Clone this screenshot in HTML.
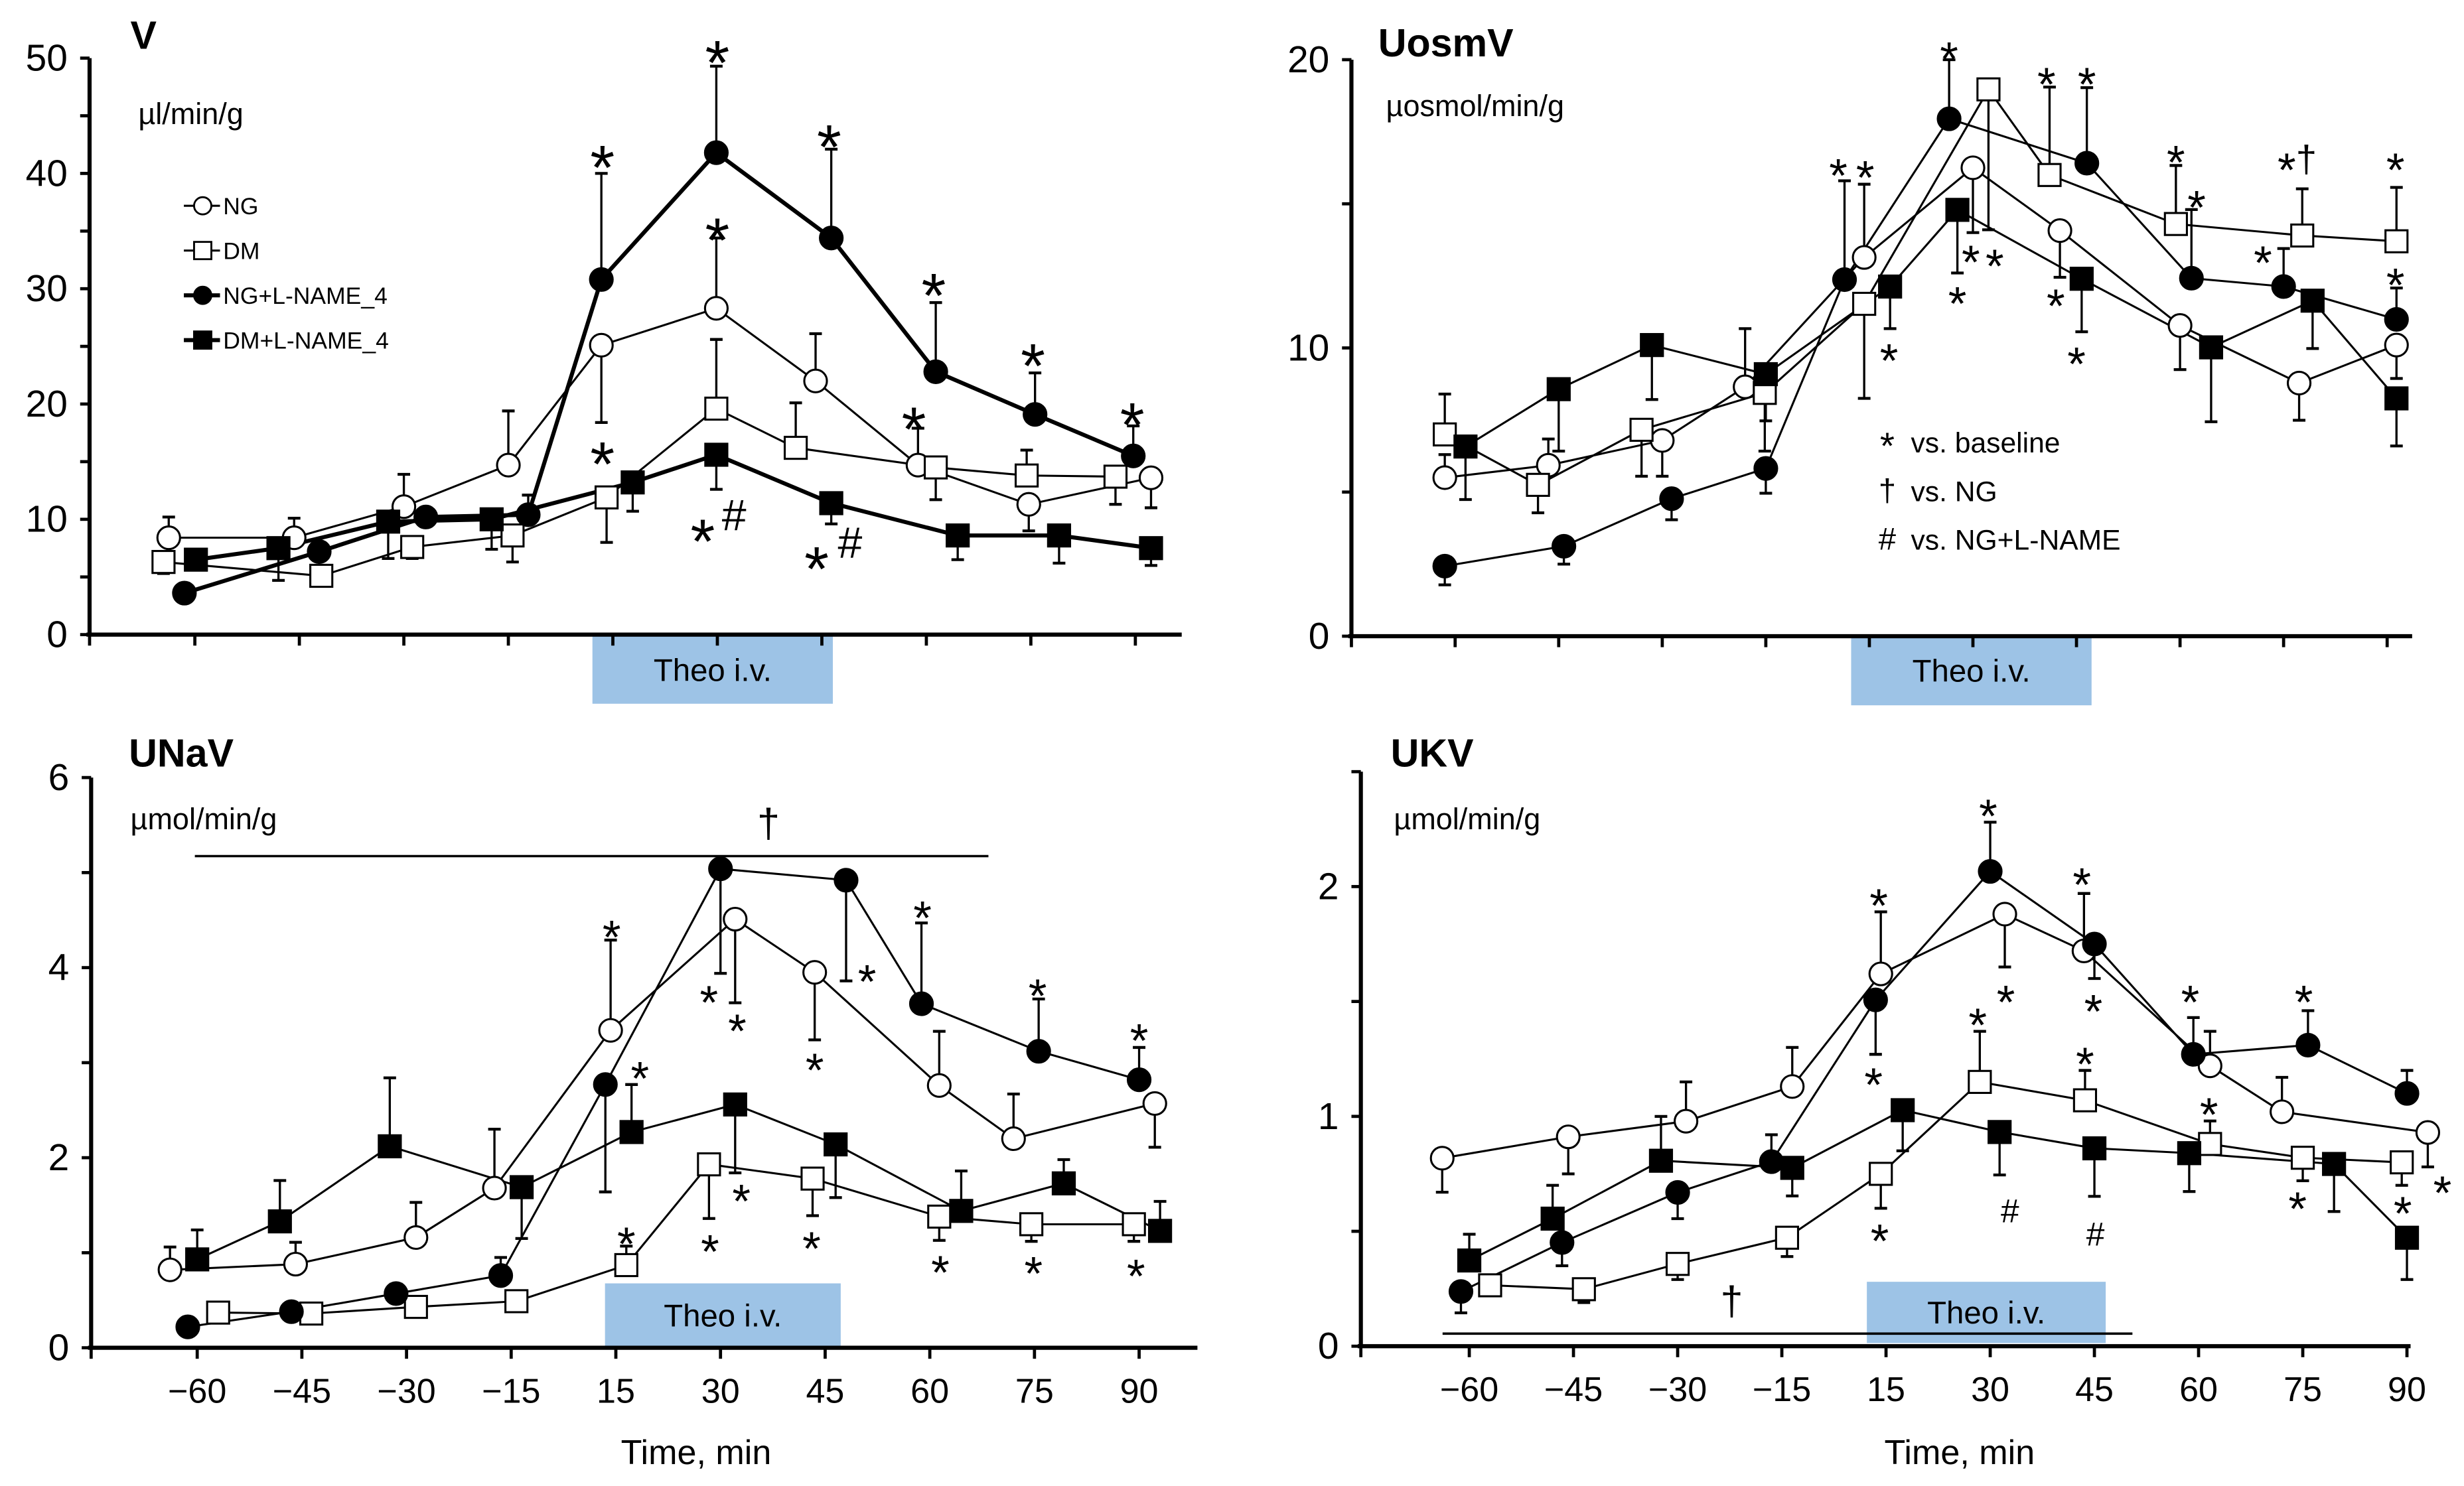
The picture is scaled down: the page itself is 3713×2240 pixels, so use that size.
<!DOCTYPE html>
<html><head><meta charset="utf-8">
<style>
html,body{margin:0;padding:0;background:#fff;}
svg{display:block;}
text{font-family:"Liberation Sans Narrow","Liberation Sans",sans-serif;fill:#000;}
</style></head>
<body>
<svg id="fig" xmlns="http://www.w3.org/2000/svg" width="3713" height="2240" viewBox="0 0 1568 946" preserveAspectRatio="none">
<g id="pV"></g>
<g id="pO"></g>
<g id="pN"></g>
<g id="pK"></g>
</svg>
<script>
const TIMES = ['\u221260','\u221245','\u221230','\u221215','15','30','45','60','75','90'];

// ---- V (µl/min/g) ----
const vNG = [8.4,8.4,11.1,14.7,25.1,28.3,22,14.7,11.3,13.6];
const vNGerr = [10.2,10.1,13.9,19.4,18.4,34.4,26.1,17.9,9,11];
const vDM = [6.3,5.1,7.6,8.6,11.9,19.6,16.2,14.5,13.8,13.7];
const vDMerr = [5.3,5.1,6.6,6.3,8,25.6,20.1,11.7,16,11.3];
const vNGL = [3.6,7.2,10.2,10.4,30.8,41.8,34.4,22.8,19.1,15.5];
const vNGLerr = [3.6,7.2,10.2,12.1,40,49.3,42.1,28.8,22.7,18.1];
const vDML = [6.5,7.5,9.8,10.0,13.2,15.6,11.4,8.6,8.6,7.5];
const vDMLerr = [6.5,4.7,6.6,7.4,10.7,12.6,9.6,6.5,6.2,6.0];

// ---- UosmV ----
const oNG = [5.5,5.93,6.79,8.65,13.14,16.25,14.07,10.78,8.78,10.1];
const oNGerr = [6.3,6.84,5.55,10.67,15.68,14,12.45,9.25,7.49,8.94];
const oDM = [7.0,5.25,7.16,8.44,11.53,18.97,16.0,14.3,13.9,13.7];
const oDMerr = [8.4,4.28,5.55,6.42,8.25,14.1,19.05,16.33,15.52,15.57];
const oNGL = [2.43,3.12,4.77,5.82,12.37,17.95,16.41,12.42,12.13,10.99];
const oNGLerr = [1.78,2.5,4.04,4.96,15.8,20,19.03,14.8,13.45,12.08];
const oDML = [6.58,8.57,10.1,9.09,12.13,14.79,12.4,10.02,11.64,8.25];
const oDMLerr = [4.74,6.42,8.21,7.47,10.67,12.6,10.56,7.44,9.98,6.6];

// ---- UNaV ----
const nNG = [0.82,0.88,1.16,1.68,3.34,4.51,3.95,2.76,2.2,2.57];
const nNGerr = [1.06,1.11,1.53,2.3,4.29,3.63,3.24,3.33,2.67,2.11];
const nDM = [0.37,0.36,0.43,0.49,0.87,1.93,1.78,1.38,1.30,1.30];
const nDMerr = [0.37,0.36,0.43,0.49,1.07,1.36,1.39,1.13,1.12,1.12];
const nNGL = [0.22,0.38,0.57,0.76,2.77,5.04,4.92,3.62,3.12,2.82];
const nNGLerr = [0.22,0.38,0.67,0.95,1.64,3.94,3.86,4.47,3.67,3.16];
const nDML = [0.93,1.33,2.12,1.69,2.27,2.56,2.14,1.44,1.73,1.23];
const nDMLerr = [1.24,1.76,2.84,1.15,2.77,1.84,1.58,1.86,1.98,1.54];

// ---- UKV ----
const kNG = [0.818,0.911,0.979,1.13,1.62,1.88,1.72,1.22,1.02,0.93];
const kNGerr = [0.67,0.75,1.15,1.3,1.89,1.65,1.97,1.37,1.17,0.78];
const kDM = [0.265,0.248,0.358,0.472,0.75,1.15,1.07,0.88,0.82,0.80];
const kDMerr = [0.265,0.19,0.29,0.39,0.6,1.37,1.2,0.98,0.72,0.70];
const kNGL = [0.238,0.451,0.669,0.803,1.507,2.066,1.75,1.27,1.31,1.1];
const kNGLerr = [0.145,0.35,0.555,0.92,1.27,2.28,1.6,1.43,1.46,1.2];
const kDML = [0.373,0.555,0.807,0.776,1.027,0.932,0.861,0.84,0.793,0.472];
const kDMLerr = [0.487,0.70,1.0,0.654,0.85,0.745,0.652,0.673,0.586,0.29];

// horizontal offsets (fraction of one time step) so overlapping symbols separate
const jV = {NG:[-0.25,-0.05,0,0,-0.11,-0.01,-0.06,-0.08,-0.02,0.15],DM:[-0.3,0.21,0.08,0.04,-0.06,-0.01,-0.25,0.09,-0.04,-0.19],NGL:[-0.1,0.19,0.21,0.19,-0.11,-0.01,0.09,0.09,0.04,-0.02],DML:[0.01,-0.2,-0.15,-0.16,0.19,-0.01,0.09,0.3,0.27,0.15]};
const jO = {NG:[-0.1,-0.1,0,-0.2,-0.05,0,-0.16,0,0.15,0.09],DM:[-0.1,-0.2,-0.2,-0.01,-0.05,0.15,-0.26,-0.04,0.18,0.09],NGL:[-0.1,0.05,0.09,0,-0.24,-0.23,0.1,0.11,0,0.09],DML:[0.1,0,-0.1,0,0.2,-0.15,0.05,0.3,0.28,0.09]};
const jN = {NG:[-0.26,-0.06,0.09,-0.16,-0.05,0.14,-0.1,0.09,-0.2,0.15],DM:[0.2,0.09,0.09,0.05,0.1,-0.11,-0.12,0.09,-0.03,-0.05],NGL:[-0.09,-0.1,-0.1,-0.1,-0.1,0,0.2,-0.08,0.04,0],DML:[0,-0.21,-0.16,0.1,0.15,0.14,0.1,0.3,0.28,0.2]};
const jK = {NG:[-0.26,-0.05,0.08,0.1,-0.05,0.14,-0.1,0.11,-0.2,0.2],DM:[0.2,0.1,0,0.05,-0.05,-0.1,-0.09,0.11,0,-0.05],NGL:[-0.08,-0.11,0,-0.1,-0.1,0,0,-0.05,0.05,0],DML:[0,-0.2,-0.16,0.1,0.16,0.09,0,-0.09,0.3,0]};

// annotations: [time index position, value, symbol]
const aV = [[3.9,41.9,'*'],[5,51,'*'],[6.07,43.7,'*'],[7.07,30.8,'*'],[8.02,24.7,'*'],[8.97,19.6,'*'],[5,35.6,'*'],[6.88,19.2,'*'],[3.9,16.2,'*'],[4.86,9.5,'*'],[5.16,10.3,'#'],[5.95,7.1,'*'],[6.27,7.9,'#']];
const aO = [[4.77,20.45,'*'],[5.71,19.56,'*'],[6.1,19.56,'*'],[3.7,16.4,'*'],[3.96,16.33,'*'],[6.96,16.86,'*'],[7.16,15.3,'*'],[8.03,16.6,'*'],[8.22,16.6,'†'],[9.08,16.6,'*'],[4.98,13.4,'*'],[5.21,13.26,'*'],[4.85,11.96,'*'],[5.8,11.88,'*'],[4.19,9.98,'*'],[6.0,9.86,'*'],[7.8,13.37,'*'],[9.08,12.6,'*']];
const aN = [[3.96,4.45,'*'],[4.23,2.96,'*'],[4.89,3.76,'*'],[5.16,3.46,'*'],[6.4,3.98,'*'],[5.9,3.05,'*'],[6.93,4.65,'*'],[8.03,3.83,'*'],[9.0,3.36,'*'],[4.1,1.22,'*'],[5.2,1.67,'*'],[4.9,1.14,'*'],[5.87,1.17,'*'],[7.1,0.92,'*'],[7.99,0.91,'*'],[8.97,0.88,'*']];
const aK = [[3.93,1.97,'*'],[4.98,2.36,'*'],[5.88,2.06,'*'],[5.15,1.55,'*'],[5.99,1.51,'*'],[3.88,1.19,'*'],[4.88,1.45,'*'],[5.91,1.28,'*'],[6.92,1.55,'*'],[8.01,1.55,'*'],[7.1,1.06,'*'],[3.94,0.51,'*'],[7.95,0.65,'*'],[8.96,0.63,'*'],[9.34,0.72,'*'],[5.19,0.6,'#'],[6.01,0.5,'#']];

const NS='http://www.w3.org/2000/svg';
function mk(parent, tag, attrs){
  const e=document.createElementNS(NS,tag);
  for(const k in attrs) e.setAttribute(k,attrs[k]);
  parent.appendChild(e); return e;
}
function txt(parent, x, y, s, size, extra){
  const t=mk(parent,'text',Object.assign({x:x,y:y,'font-size':size},extra||{}));
  t.textContent=s; return t;
}

function drawPanel(g, cfg, series, jit, annots){
  const X=(i,j)=>cfg.x0+(i+j)*cfg.dx;
  const Y=v=>cfg.y0-v*cfg.sy;
  const box=mk(g,'rect',{x:cfg.box[0],y:cfg.box[1],width:cfg.box[2],height:cfg.box[3],fill:'#9dc3e6'});
  
  
  const bt=txt(g,cfg.box[0]+cfg.box[2]/2,cfg.box[1]+cfg.box[3]/2+7,'Theo i.v.',20,{'text-anchor':'middle'});
  
  
  const ya=mk(g,'line',{x1:cfg.ax,y1:Y(cfg.vmax),x2:cfg.ax,y2:cfg.y0,stroke:'#000','stroke-width':2.6});
  
  
  const xa=mk(g,'line',{x1:cfg.ax-2,y1:cfg.y0,x2:cfg.axEnd,y2:cfg.y0,stroke:'#000','stroke-width':2.6});
  
  
  mk(g,'line',{x1:cfg.ax,y1:cfg.y0,x2:cfg.ax,y2:cfg.y0+7,stroke:'#000','stroke-width':2});
  for(let i=0;i<TIMES.length;i++){
    mk(g,'line',{x1:X(i,0),y1:cfg.y0,x2:X(i,0),y2:cfg.y0+7,stroke:'#000','stroke-width':2});
    if(cfg.xlabels){
      const tl=txt(g,X(i,0),cfg.y0+35,TIMES[i],22,{'text-anchor':'middle'});
      
      
    }
  }
  for(let v=0; v<=cfg.vmax+1e-9; v+=cfg.minor){
    mk(g,'line',{x1:cfg.ax-6,y1:Y(v),x2:cfg.ax,y2:Y(v),stroke:'#000','stroke-width':2});
  }
  for(const v of cfg.yticks){
    const yl=txt(g,cfg.ax-14,Y(v)+8,String(v),24,{'text-anchor':'end'});
    
    
  }
  const ti=txt(g,cfg.title[0],cfg.title[1],cfg.title[2],25,{'font-weight':'bold','font-family':'Liberation Sans, sans-serif'});
  
  
  const un=txt(g,cfg.unit[0],cfg.unit[1],cfg.unit[2],19);
  
  
  if(cfg.xtitle){
    const xt=txt(g,cfg.xtitle,932,'Time, min',22,{'text-anchor':'middle'});
    
    
  }
  for(const s of series){
    const pts=s.vals.map((v,i)=>X(i,jit[s.key][i]).toFixed(1)+','+Y(v).toFixed(1)).join(' ');
    const pl=mk(g,'polyline',{points:pts,fill:'none',stroke:'#000','stroke-width':s.lw});
    
    
  }
  for(const s of series){
    s.err.forEach((e,i)=>{
      if(Math.abs(e-s.vals[i])<1e-6) return;
      const x=X(i,jit[s.key][i]);
      mk(g,'line',{x1:x,y1:Y(s.vals[i]),x2:x,y2:Y(e),stroke:'#000','stroke-width':1.4});
      mk(g,'line',{x1:x-4,y1:Y(e),x2:x+4,y2:Y(e),stroke:'#000','stroke-width':1.8});
    });
  }
  for(const s of series){
    s.vals.forEach((v,i)=>{
      const x=X(i,jit[s.key][i]), y=Y(v);
      let m;
      if(s.shape==='c') m=mk(g,'circle',{cx:x,cy:y,r:7.2,fill:s.fill,stroke:'#000','stroke-width':1.3});
      else m=mk(g,'rect',{x:x-7,y:y-7,width:14,height:14,fill:s.fill,stroke:'#000','stroke-width':1.3});
      
      
    });
  }
  for(const a of annots){
    let t;
    if(a[2]==='*') t=txt(g,X(a[0],0),Y(a[1])+cfg.star*0.6,'*',cfg.star,{'text-anchor':'middle'});
    else if(a[2]==='#') t=txt(g,X(a[0],0),Y(a[1])+9,'#',cfg.star*0.7,{'text-anchor':'middle','font-family':'Liberation Serif, serif'});
    else t=txt(g,X(a[0],0),Y(a[1])+9,a[2],24,{'text-anchor':'middle','font-family':'Liberation Serif, serif'});
    
    
  }
}

function S(key,vals,err,shape,fill,lw){return {key,vals,err,shape,fill,lw};}

const gV=document.getElementById('pV');
drawPanel(gV,{x0:124,dx:66.5,ax:57,axEnd:752,y0:404,sy:7.34,vmax:50,minor:5,yticks:[0,10,20,30,40,50],box:[377,405,153,43],title:[83,31,'V'],unit:[88,79,'\u00b5l/min/g'],star:40,xlabels:false},
 [S('NG',vNG,vNGerr,'c','#fff',1.3),S('DM',vDM,vDMerr,'s','#fff',1.3),S('NGL',vNGL,vNGLerr,'c','#000',2.6),S('DML',vDML,vDMLerr,'s','#000',2.6)],jV,aV);

const leg=[['NG','c','#fff',1.3],['DM','s','#fff',1.3],['NG+L-NAME_4','c','#000',2.6],['DM+L-NAME_4','s','#000',2.6]];
leg.forEach((l,i)=>{
  const y=131+i*28.5;
  const lg=mk(gV,'g',{});
  
  
  mk(lg,'line',{x1:117,y1:y,x2:140,y2:y,stroke:'#000','stroke-width':l[3]});
  if(l[1]==='c') mk(lg,'circle',{cx:129,cy:y,r:5.5,fill:l[2],stroke:'#000','stroke-width':1.2});
  else mk(lg,'rect',{x:123.5,y:y-5.5,width:11,height:11,fill:l[2],stroke:'#000','stroke-width':1.2});
  txt(lg,142,y+5.5,l[0],15);
});

drawPanel(document.getElementById('pO'),{x0:926,dx:65.9,ax:860,axEnd:1535,y0:405,sy:18.35,vmax:20,minor:5,yticks:[0,10,20],box:[1178,405,153,44],title:[877,36,'UosmV'],unit:[882,74,'\u00b5osmol/min/g'],star:30,xlabels:false},
 [S('NG',oNG,oNGerr,'c','#fff',1.3),S('DM',oDM,oDMerr,'s','#fff',1.3),S('NGL',oNGL,oNGLerr,'c','#000',1.3),S('DML',oDML,oDMLerr,'s','#000',1.3)],jO,aO);
const gO=document.getElementById('pO');
[['*','vs. baseline',288],['†','vs. NG',319],['#','vs. NG+L-NAME',350]].forEach(r=>{
  const lg=mk(gO,'g',{});
  
  
  txt(lg,1201,r[2]+(r[0]==='*'?4:0),r[0],r[0]==='*'?24:20,{'text-anchor':'middle','font-family':'Liberation Serif, serif'});
  txt(lg,1216,r[2],r[1],18);
});

drawPanel(document.getElementById('pN'),{x0:125.5,dx:66.6,ax:58,axEnd:762,y0:858,sy:60.5,vmax:6,minor:1,yticks:[0,2,4,6],box:[385,817,150,41],title:[82,488,'UNaV'],unit:[83,528,'\u00b5mol/min/g'],star:30,xlabels:true,xtitle:443},
 [S('NG',nNG,nNGerr,'c','#fff',1.3),S('DM',nDM,nDMerr,'s','#fff',1.3),S('NGL',nNGL,nNGLerr,'c','#000',1.3),S('DML',nDML,nDMLerr,'s','#000',1.3)],jN,aN);
const gN=document.getElementById('pN');
const dl=mk(gN,'line',{x1:124,y1:545,x2:629,y2:545,stroke:'#000','stroke-width':1.5});


txt(gN,489,533,'†',26,{'text-anchor':'middle','font-family':'Liberation Serif, serif'});

drawPanel(document.getElementById('pK'),{x0:935,dx:66.3,ax:866,axEnd:1534,y0:857,sy:146.3,vmax:2.5,minor:0.5,yticks:[0,1,2],box:[1188,816,152,39],title:[885,488,'UKV'],unit:[887,528,'\u00b5mol/min/g'],star:30,xlabels:true,xtitle:1247},
 [S('NG',kNG,kNGerr,'c','#fff',1.3),S('DM',kDM,kDMerr,'s','#fff',1.3),S('NGL',kNGL,kNGLerr,'c','#000',1.3),S('DML',kDML,kDMLerr,'s','#000',1.3)],jK,aK);
const gK=document.getElementById('pK');
const dl2=mk(gK,'line',{x1:918,y1:849,x2:1357,y2:849,stroke:'#000','stroke-width':1.5});


txt(gK,1102,837,'†',26,{'text-anchor':'middle','font-family':'Liberation Serif, serif'});
</script>
</body></html>
